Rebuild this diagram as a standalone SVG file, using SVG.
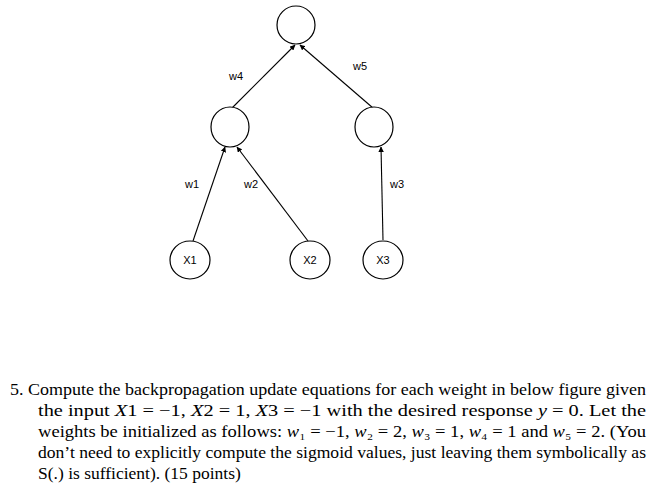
<svg xmlns="http://www.w3.org/2000/svg" width="653" height="483" viewBox="0 0 653 483">
<style>
.n{fill:#fff;stroke:#000;stroke-width:1.2}
.l{font-family:"Liberation Sans",Arial,sans-serif;font-size:11px;fill:#000}
.c{stroke:#000;stroke-width:1.1;fill:none;marker-end:url(#a)}
.t{font-family:"Liberation Serif","DejaVu Serif",serif;font-size:17.5px;fill:#000}
</style>
<defs><marker id="a" viewBox="0 0 6 6" refX="5.5" refY="3" markerWidth="5" markerHeight="5" orient="auto"><path d="M0,0L6,3L0,6z" fill="#000"/></marker></defs>
<rect width="653" height="483" fill="#fff"/>
<g id="connectors">
<line class="c" x1="193" y1="241" x2="225" y2="147"/>
<line class="c" x1="308" y1="241" x2="237" y2="147"/>
<line class="c" x1="383" y1="240" x2="381" y2="147"/>
<line class="c" x1="232" y1="108" x2="295" y2="45"/>
<line class="c" x1="373" y1="108" x2="300" y2="45"/>
<text class="l" x="229" y="80">w4</text>
<text class="l" x="353" y="70">w5</text>
<text class="l" x="185" y="188">w1</text>
<text class="l" x="244" y="188">w2</text>
<text class="l" x="390" y="188">w3</text>
</g>
<g id="out"><ellipse class="n" cx="296" cy="25" rx="19" ry="19"/></g>
<g id="h1"><ellipse class="n" cx="230" cy="127" rx="19" ry="20"/></g>
<g id="h2"><ellipse class="n" cx="374" cy="127" rx="19" ry="20"/></g>
<g id="x1"><ellipse class="n" cx="190" cy="260" rx="20" ry="19"/><text class="l" x="190" y="264" text-anchor="middle">X1</text></g>
<g id="x2"><ellipse class="n" cx="310" cy="260" rx="20" ry="19"/><text class="l" x="310" y="264" text-anchor="middle">X2</text></g>
<g id="x3"><ellipse class="n" cx="383" cy="260" rx="20" ry="19"/><text class="l" x="383" y="264" text-anchor="middle">X3</text></g>
<g id="question">
<text class="t" x="10" y="395" textLength="636" lengthAdjust="spacingAndGlyphs">5. Compute the backpropagation update equations for each weight in below figure given</text>
<text class="t" x="38" y="416" textLength="608" lengthAdjust="spacingAndGlyphs">the input <tspan font-style="italic">X</tspan>1 = −1, <tspan font-style="italic">X</tspan>2 = 1, <tspan font-style="italic">X</tspan>3 = −1 with the desired response <tspan font-style="italic">y</tspan> = 0.  Let the</text>
<text class="t" x="38" y="437" textLength="608" lengthAdjust="spacingAndGlyphs">weights be initialized as follows: <tspan font-style="italic">w</tspan>₁ = −1, <tspan font-style="italic">w</tspan>₂ = 2, <tspan font-style="italic">w</tspan>₃ = 1, <tspan font-style="italic">w</tspan>₄ = 1 and <tspan font-style="italic">w</tspan>₅ = 2.  (You</text>
<text class="t" x="38" y="458" textLength="608" lengthAdjust="spacingAndGlyphs">don’t need to explicitly compute the sigmoid values, just leaving them symbolically as</text>
<text class="t" x="38" y="479">S(.) is sufficient). (15 points)</text>
</g>
</svg>
